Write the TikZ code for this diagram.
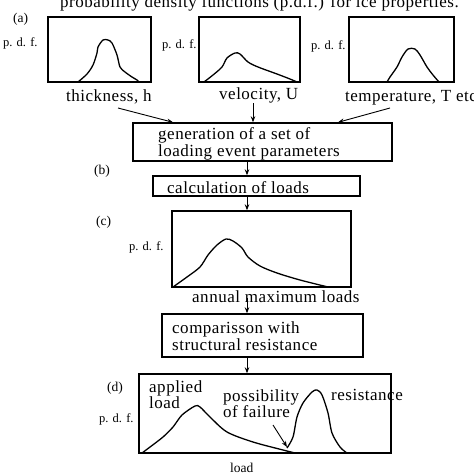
\documentclass[tikz,border=0pt]{standalone}
\usepackage{fontspec}
\setmainfont{Liberation Serif}
\newfontfamily\spfont[LetterSpace=3]{Liberation Serif}
\usetikzlibrary{arrows.meta}
\begin{document}
\begin{tikzpicture}[x=1pt,y=-1pt,
  box/.style={draw,line width=1.4pt,inner sep=0pt,rectangle},
  crv/.style={line width=1.3pt,line join=round},
  arr/.style={line width=0.9pt,-{Stealth[length=6pt,width=4.5pt]}},
  lbl/.style={anchor=base west,inner sep=0pt,font=\spfont\fontsize{17}{19}\selectfont},
  sm/.style={anchor=base west,inner sep=0pt,font=\fontsize{12.5}{14}\selectfont},
  tag/.style={anchor=base west,inner sep=0pt,font=\fontsize{13.5}{15}\selectfont}]
\useasboundingbox (0,0) rectangle (474,474);
\fill[white] (0,0) rectangle (474,474);
% title
\node[anchor=base,inner sep=0pt,font=\spfont\fontsize{17}{19}\selectfont] (title) at (259.5,7) {probability density functions (p.d.f.) for ice properties.};
% (a) boxes
\node[tag] (ta) at (13,22) {(a)};
\node[box,minimum width=103pt,minimum height=65pt] (b1) at (99.5,49.5) {};
\node[box,minimum width=101pt,minimum height=65pt] (b2) at (249.5,49.5) {};
\node[box,minimum width=105pt,minimum height=65pt] (b3) at (401.5,49.5) {};
\node[sm] (p1) at (3,46) {p. d. f.};
\node[sm] (p2) at (162,48) {p. d. f.};
\node[sm] (p3) at (311,49) {p. d. f.};
\draw[crv] plot[smooth,tension=0.5] coordinates {(78,82) (87,74) (93,65) (97,53) (98,47) (103,40) (108,40) (112,43) (117,55) (120,67) (125,72) (132,77) (137,80) (139,82)};
\draw[crv] plot[smooth,tension=0.5] coordinates {(204,82) (213,75) (222,67) (227,58) (235,53) (240,54) (248,62) (258,67) (277,74) (290,79) (297,82)};
\draw[crv] plot[smooth,tension=0.5] coordinates {(387,82) (390,77) (397,67) (402,57) (408,49) (415,49) (420,55) (427,67) (433,75) (439,82)};
\node[lbl] (lh) at (66,101) {thickness, h};
\node[lbl] (lu) at (219,99) {velocity, U};
\node[lbl] (lt) at (345,101) {temperature, T etc};
% generation box
\node[box,minimum width=259pt,minimum height=38pt] (gen) at (262.5,142) {};
\node[lbl] (g1) at (158,139) {generation of a set of};
\node[lbl] (g2) at (158,156) {loading event parameters};
\coordinate (hs) at (118,108);
\coordinate (hx) at (173,0);
\coordinate (us) at (253,103);
\coordinate (ts) at (390,108);
\coordinate (tx) at (338,0);
\draw[arr] (hs) -- (gen.north -| hx);
\draw[arr] (us) -- (gen.north -| us);
\draw[arr] (ts) -- (gen.north -| tx);
% (b)
\node[tag] (tb) at (94,174) {(b)};
\node[box,minimum width=207pt,minimum height=20pt] (calc) at (256.5,186) {};
\node[lbl] (c1) at (167,193) {calculation of loads};
\coordinate (vx) at (247,0);
\draw[arr] (gen.south -| vx) -- (calc.north -| vx);
% (c)
\node[tag] (tc) at (96,225) {(c)};
\node[box,minimum width=179pt,minimum height=76pt] (bc) at (261.5,249) {};
\draw[arr] (calc.south -| vx) -- (bc.north -| vx);
\node[sm] (pc) at (129,250) {p. d. f.};
\draw[crv] plot[smooth,tension=0.5] coordinates {(173,287) (187,277) (200,267) (208,255) (217,245) (226,239) (233,241) (242,248) (248,257) (260,266) (277,273) (300,280) (328,287)};
\node[lbl] (am) at (192,302) {annual maximum loads};
% comparison
\node[box,minimum width=201pt,minimum height=43pt] (comp) at (262.5,335.5) {};
\node[lbl] (k1) at (172,333) {comparisson with};
\node[lbl] (k2) at (172,350) {structural resistance};
\coordinate (as) at (247,298);
\draw[arr] (as) -- (comp.north -| as);
% (d)
\node[tag] (td) at (107,391) {(d)};
\node[box,minimum width=252pt,minimum height=79pt] (bd) at (265,413.5) {};
\draw[arr] (comp.south -| vx) -- (bd.north -| vx);
\node[sm] (pd) at (99,422) {p. d. f.};
\node[lbl] (ap1) at (149,392) {applied};
\node[lbl] (ap2) at (149,408) {load};
\node[lbl] (pf1) at (223,401) {possibility};
\node[lbl] (pf2) at (223,417) {of failure};
\node[lbl] (rs) at (331,400) {resistance};
\draw[crv] plot[smooth,tension=0.5] coordinates {(142,453) (150,447) (163,437) (173,427) (182,415) (195,406) (200,407) (210,417) (227,432) (253,442) (283,450) (295,453)};
\draw[crv] plot[smooth,tension=0.5] coordinates {(287,448) (293,437) (297,417) (303,403) (312,392) (317,390) (322,395) (328,413) (332,433) (340,447) (347,453)};
\coordinate (fs) at (273,425);
\coordinate (fe) at (287,447);
\draw[arr] (fs) -- (fe);
\node[tag] (ld) at (230,472) {load};
\end{tikzpicture}
\end{document}
